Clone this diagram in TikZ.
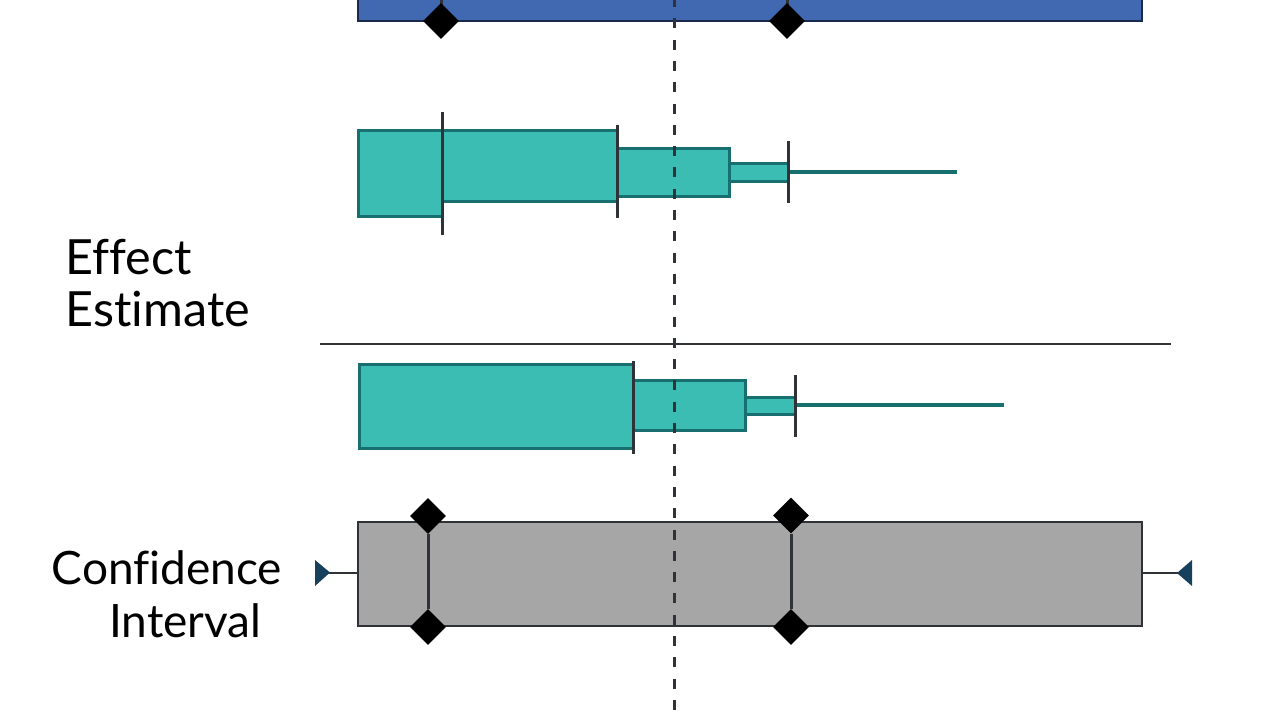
\documentclass[tikz,border=0pt]{standalone}
\usepackage{fontspec}
\setmainfont[Ligatures=NoCommon]{Lato}
\usetikzlibrary{shapes.geometric}
\definecolor{bluefill}{HTML}{4169B1}
\definecolor{blueedge}{HTML}{1B2A4A}
\definecolor{tealfill}{HTML}{3CBDB3}
\definecolor{tealedge}{HTML}{17706F}
\definecolor{grayfill}{HTML}{A6A6A6}
\definecolor{ink}{HTML}{2F3338}
\definecolor{tip}{HTML}{17405C}
\tikzset{
  x=1pt,y=-1pt,
  bluebar/.style={fill=bluefill,draw=blueedge,line width=2.4pt},
  tealbar/.style={fill=tealfill,draw=tealedge,line width=3pt},
  graybar/.style={fill=grayfill,draw=ink,line width=2.4pt},
  tealline/.style={draw=tealedge,line width=3.4pt},
  tick/.style={draw=ink,line width=3pt},
  rule/.style={draw=ink,line width=2.2pt},
  midline/.style={draw=ink,line width=3pt,dash pattern=on 10pt off 11.3pt},
  whisker/.style={draw=ink,line width=2.6pt},
  mark diamond/.style={diamond,fill=black,draw=none,inner sep=0pt,minimum width=36pt,minimum height=36pt,aspect=1},
  labeltext/.style={font=\fontsize{46}{46}\selectfont,text=black,inner sep=0pt},
  biglabel/.style={labeltext,font=\fontsize{48.5}{48.5}\selectfont},
  endtip/.style={fill=tip,draw=none},
}
\begin{document}
\begin{tikzpicture}
\useasboundingbox (0,0) rectangle (1280,720);
\fill[white] (0,0) rectangle (1280,720);
% blue bar
\draw[bluebar] (358,-5) rectangle (1142,21);
\coordinate (bt1) at (441,-3);
\coordinate (bt2) at (787,-3);
\draw[tick] (bt1) -- (441,21);
\draw[tick] (bt2) -- (787,21);
\node[mark diamond] (bd1) at (441,21) {};
\node[mark diamond] (bd2) at (787,21) {};
% first teal stack
\draw[tealbar] (358,130) rectangle (442,216);
\draw[tealbar] (442,130) rectangle (617,201);
\draw[tealbar] (617,148.5) rectangle (729,196);
\draw[tealbar] (729,163.5) rectangle (788,181);
\coordinate (a1) at (788,172);
\coordinate (a2) at (957,172);
\draw[tealline] (a1) -- (a2);
\draw[tick] (442,112) -- (442,235);
\draw[tick] (617.5,125) -- (617.5,218);
\draw[tick] (788,141) -- (788,203);
% labels
\node[biglabel,anchor=base west] (l1) at (65.5,274) {Effect};
\node[biglabel,anchor=base west] (l2) at (65.5,326) {Estimate};
\node[labeltext,anchor=base west] (l3) at (51.5,584) {Confidence};
\node[labeltext,anchor=base west] (l4) at (109,637.5) {Interval};
% rule
\coordinate (r1) at (320,344);
\coordinate (r2) at (1171,344);
\draw[rule] (r1) -- (r2);
% second teal stack
\draw[tealbar] (359,364.5) rectangle (633,448);
\draw[tealbar] (633,380) rectangle (745,430);
\draw[tealbar] (745,397.5) rectangle (795,414);
\coordinate (c1) at (795,405);
\coordinate (c2) at (1004,405);
\draw[tealline] (c1) -- (c2);
\draw[tick] (633,361) -- (633,454);
\draw[tick] (795,375) -- (795,437);
% gray bar
\draw[graybar] (358,522) rectangle (1142,626);
\node[mark diamond] (gd1) at (428,516) {};
\node[mark diamond] (gd2) at (428,627) {};
\node[mark diamond] (gd3) at (791,515.5) {};
\node[mark diamond] (gd4) at (791,627) {};
\draw[tick] (gd1) -- (gd2);
\draw[tick] (gd3) -- (gd4);
% whiskers
\coordinate (wl) at (358,573);
\coordinate (wr) at (1142,573);
\coordinate (tl) at (325,573);
\coordinate (tr) at (1182,573);
\draw[whisker] (wl) -- (tl);
\draw[whisker] (wr) -- (tr);
\fill[endtip] (315,560) -- (330,572.5) -- (315,586) -- cycle;
\fill[endtip] (1192,560) -- (1177,573) -- (1192,586) -- cycle;
% central dashed line
\coordinate (m1) at (674,-3);
\coordinate (m2) at (674,720);
\draw[midline] (m1) -- (m2);
\end{tikzpicture}
\end{document}
